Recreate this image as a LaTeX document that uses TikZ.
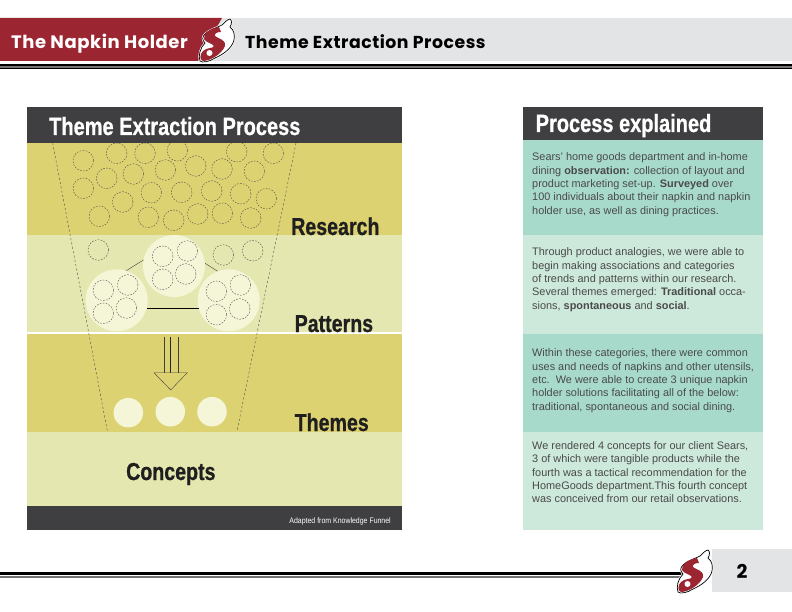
\documentclass[tikz,border=0pt]{standalone}
\usepackage{fontspec}
\setmainfont{Liberation Sans}
\newfontfamily\condfont[FakeStretch=0.8,FakeBold=0.7]{Liberation Sans}
\newfontfamily\srcfont[FakeStretch=0.87]{Liberation Sans}
\newfontfamily\headfont[LetterSpace=3]{Poppins}
\usetikzlibrary{positioning}
\definecolor{napkinred}{HTML}{9B2530}
\definecolor{bandgray}{HTML}{E3E4E6}
\definecolor{panelgray}{HTML}{3F3F41}
\definecolor{darkyellow}{HTML}{DDD272}
\definecolor{lightyellow}{HTML}{E4E7AF}
\definecolor{paleyellow}{HTML}{F5F6D8}
\definecolor{darkteal}{HTML}{A8DACB}
\definecolor{lightteal}{HTML}{CDE9DC}
\definecolor{bodygray}{HTML}{4A4A4A}
\begin{document}
\begin{tikzpicture}[
  x=1pt, y=-1pt,
  dashcirc/.style={circle,draw=black!70,thin,dash pattern=on 1.6pt off 1.4pt,
                   minimum size=20.6pt,inner sep=0pt},
  bigcirc/.style={circle,fill=paleyellow,minimum size=62pt,inner sep=0pt},
  themecirc/.style={circle,fill=paleyellow,minimum size=29.5pt,inner sep=0pt},
  stagelabel/.style={anchor=base west,inner sep=0pt,text=black!88,
                     font=\condfont\fontsize{24.5}{24.5}\selectfont\bfseries},
  paneltitle/.style={anchor=base west,inner sep=0pt,text=white,
                     font=\condfont\fontsize{25}{25}\selectfont\bfseries},
  bodytext/.style={anchor=north west,inner sep=0pt,align=left,text=bodygray,
                   font=\fontsize{10.9}{13.45}\selectfont},
  headtext/.style={anchor=base west,inner sep=0pt,
                   font=\headfont\fontsize{17.3}{17.3}\selectfont\bfseries},
  logo/.pic={
    \path[draw=white,line width=2pt] (23,7) .. controls (26,4) and (29,1) .. (31,1)
      .. controls (33,2) and (33,6) .. (31,9) .. controls (35,12) and (36,17) .. (35,22)
      .. controls (33,30) and (25,36) .. (16,40) .. controls (10,44) and (3,45) .. (1,43)
      .. controls (-1,38) and (1,30) .. (6,25) .. controls (3,22) and (3,19) .. (6,16)
      .. controls (10,12) and (17,10) .. (23,7) -- cycle;
    \path[draw=black,fill=white,line width=.7pt] (23,7) .. controls (26,4) and (29,1) .. (31,1)
      .. controls (33,2) and (33,6) .. (31,9) .. controls (35,12) and (36,17) .. (35,22)
      .. controls (33,30) and (25,36) .. (16,40) .. controls (10,44) and (3,45) .. (1,43)
      .. controls (-1,38) and (1,30) .. (6,25) .. controls (3,22) and (3,19) .. (6,16)
      .. controls (10,12) and (17,10) .. (23,7) -- cycle;
    \path[fill=napkinred] (20,9) .. controls (12,10) and (4,15) .. (5,21)
      .. controls (7,25) and (13,25) .. (15,28) .. controls (14,31) and (8,29) .. (4,33)
      .. controls (1,36) and (0,42) .. (4,43) .. controls (11,43) and (23,36) .. (26,28)
      .. controls (27,21) and (19,21) .. (16,18) .. controls (15,15) and (19,14) .. (22,14) -- cycle;
    \path[fill=white] (10.5,35) circle (3);
  }
]
  \useasboundingbox (0,0) rectangle (792,612);

  % top band
  \fill[bandgray] (0,18) rectangle (792,61);
  \fill[napkinred] (0,18) -- (222,18) -- (198,61) -- (0,61) -- cycle;
  \fill[black] (0,64.5) rectangle (792,65.7);
  \fill[black!55] (0,65.7) rectangle (792,67.7);
  \fill[black] (0,67.7) rectangle (792,69.3);
  \pic at (199,18) {logo};
  \node[headtext,text=white,font=\headfont\fontsize{18}{18}\selectfont\bfseries] (brand) at (11,49) {The Napkin Holder};
  \node[headtext] (slidetitle) at (245,49) {Theme Extraction Process};

  % left panel
  \fill[darkyellow] (27,143) rectangle (402,235);
  \fill[lightyellow] (27,235) rectangle (402,332);
  \fill[white] (27,332) rectangle (402,334);
  \fill[darkyellow] (27,334) rectangle (402,432);
  \fill[lightyellow] (27,432) rectangle (402,506);

  \foreach \x/\y in {83.3/160.7,116.7/153.3,145/153.3,177.3/150.7,236.7/151.7,273.3/153.3,
                     106.7/178.3,133.3/174,165.3/170,195.7/166,222/169,254.3/171.3,
                     83.3/188.3,122.7/202,151.3/192.7,181.7/192.3,211.7/191,240.7/193.7,266.3/198.7,
                     99.3/216.3,148.3/217.3,173.7/220.3,197.7/214,222.3/213.3,250.7/218,
                     98.3/250,223.3/255,252.7/250.7}
    \node[dashcirc] at (\x,\y) {};

  \node[bigcirc] (ptop) at (174,266) {};
  \node[bigcirc] (pleft) at (116.7,300.3) {};
  \node[bigcirc] (pright) at (228.7,300.3) {};
  \draw[black!75] (pleft.72) -- (ptop.169);
  \draw[black!75] (ptop.5) -- (pright.111);
  \draw[black,semithick] (pleft.-15) -- (pright.195);

  \foreach \x/\y in {162.7/256.3,187.3/251,162.7/279.3,185.7/274,
                     103.3/290.3,127.7/285,103.3/313.3,126.3/308,
                     216.3/291.3,240.3/285,216.3/314.7,239.7/309}
    \node[dashcirc] at (\x,\y) {};

  % funnel sides
  \coordinate (fla) at (52.7,143);
  \coordinate (flb) at (107.3,431);
  \coordinate (fra) at (296,143);
  \coordinate (frb) at (237,431);
  \draw[black!70,thin,dash pattern=on 2.2pt off 2.2pt] (fla) -- (flb);
  \draw[black!70,thin,dash pattern=on 2.2pt off 2.2pt] (fra) -- (frb);

  % arrow down to the themes
  \coordinate (ta) at (164.3,337);
  \coordinate (tb) at (170.3,337);
  \coordinate (tc) at (177.7,337);
  \coordinate (hl) at (154,372.7);
  \coordinate (hr) at (187.3,372.7);
  \coordinate (hb) at (170.7,390);
  \draw[black!75] (ta) -- (ta |- hl);
  \draw[black!85,semithick] (tb) -- (tb |- hl);
  \draw[black!75] (tc) -- (tc |- hl);
  \draw[black!75] (hl) -- (hr) -- (hb) -- cycle;

  \node[themecirc] (tha) at (128.3,412.7) {};
  \node[themecirc] (thb) at (170.3,411.7) {};
  \node[themecirc] (thc) at (212,411.7) {};

  \fill[panelgray] (27,107) rectangle (402,143);
  \fill[panelgray] (27,506) rectangle (402,530);
  \node[paneltitle] (lefttitle) at (49,135) {Theme Extraction Process};
  \node[stagelabel] (research) at (291,235) {Research};
  \node[stagelabel] (patterns) at (294.5,332) {Patterns};
  \node[stagelabel] (themes) at (294.5,431) {Themes};
  \node[stagelabel] (concepts) at (126,480) {Concepts};
  \node[anchor=base east,inner sep=0pt,text=white,font=\srcfont\fontsize{8}{8}\selectfont] (source) at (391,523)
    {Adapted from Knowledge Funnel};

  % right panel
  \fill[panelgray] (523,107) rectangle (763,140);
  \fill[darkteal] (523,140) rectangle (763,235);
  \fill[lightteal] (523,235) rectangle (763,334);
  \fill[darkteal] (523,334) rectangle (763,432);
  \fill[lightteal] (523,432) rectangle (763,530);
  \node[paneltitle] (righttitle) at (535.5,132) {Process explained};
  \node[bodytext] (expa) at (532,152.5) {Sears’ home goods department and in-home\\
    dining \textbf{observation:} collection of layout and\\
    product marketing set-up. \textbf{Surveyed} over\\
    100 individuals about their napkin and napkin\\
    holder use, as well as dining practices.};
  \node[bodytext] (expb) at (532,247.5) {Through product analogies, we were able to\\
    begin making associations and categories\\
    of trends and patterns within our research.\\
    Several themes emerged: \textbf{Traditional} occa-\\
    sions, \textbf{spontaneous} and \textbf{social}.};
  \node[bodytext] (expc) at (532,348.5) {Within these categories, there were common\\
    uses and needs of napkins and other utensils,\\
    etc.\ \ We were able to create 3 unique napkin\\
    holder solutions facilitating all of the below:\\
    traditional, spontaneous and social dining.};
  \node[bodytext] (expd) at (532,441) {We rendered 4 concepts for our client Sears,\\
    3 of which were tangible products while the\\
    fourth was a tactical recommendation for the\\
    HomeGoods department.This fourth concept\\
    was conceived from our retail observations.};

  % bottom band
  \fill[bandgray] (712,549) rectangle (792,592);
  \fill[black] (0,571.7) rectangle (690,575);
  \fill[black!55] (0,576) rectangle (690,578);
  \pic at (677,549) {logo};
  \node[anchor=base,inner sep=0pt,font=\headfont\fontsize{19}{19}\selectfont\bfseries] (pagenum) at (742,578) {2};
\end{tikzpicture}
\end{document}
